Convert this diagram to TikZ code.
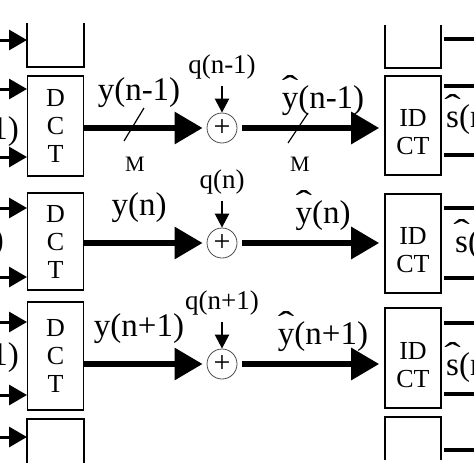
\documentclass[tikz,border=0pt]{standalone}
\usepackage{fontspec}
\setmainfont{Liberation Serif}
\usetikzlibrary{arrows.meta}

\newcommand{\hatted}[1]{{\ooalign{#1\cr\hidewidth\raisebox{.28em}{\scalebox{1.5}[1]{\char"02C6}}\hidewidth\cr}}}

\begin{document}
\begin{tikzpicture}[x=1pt,y=-1pt,
  box/.style={draw,line width=1.6pt,minimum width=56pt,inner sep=0pt},
  boxtext/.style={font=\fontsize{26}{28}\selectfont,align=center,inner sep=0pt},
  bigarrow/.style={line width=6pt,-{Triangle[length=28pt,width=31pt]}},
  inarrow/.style={line width=3pt,-{Triangle[length=18pt,width=20pt]}},
  downarrow/.style={line width=2.5pt,-{Triangle[length=14pt,width=14pt]}},
  outline/.style={line width=4pt},
  adder/.style={circle,draw=black!70,line width=0.8pt,minimum size=30pt,inner sep=0pt,font=\fontsize{30}{30}\selectfont},
  ylabel/.style={font=\fontsize{33}{35}\selectfont,inner sep=0pt},
  qlabel/.style={font=\fontsize{27}{29}\selectfont,inner sep=0pt},
  mlabel/.style={font=\fontsize{22}{24}\selectfont,inner sep=0pt},
  slash/.style={line width=1.2pt}]
  \useasboundingbox (0,0) rectangle (474,474);
  \clip (0,0) rectangle (474,474);
   \coordinate (dctedge) at (27,0);
   \coordinate (idctedge) at (444,0);
  % open boxes cut by the frame
  \draw[line width=1.6pt] (27,23) -- (27,67) -- (84,67) -- (84,23);
  \draw[line width=1.6pt] (27,463) -- (27,419) -- (84,419) -- (84,463);
  \draw[line width=1.6pt] (385,25) -- (385,68) -- (441,68) -- (441,25);
  \draw[line width=1.6pt] (385,460) -- (385,417) -- (441,417) -- (441,460);
  \foreach \r/\ry/\dc/\dh/\ic/\ih/\ylab/\qlab/\hlab in {%one row per block
      1/128/126/100/125.5/99/{y(n-1)}/{q(n-1)}/{n-1},
      2/243/241.5/97/243.5/99/{y(n)}/{q(n)}/{n},
      3/364/356/108/358/100/{y(n+1)}/{q(n+1)}/{n+1}}{%
    \coordinate (row\r) at (0,\ry);
    \node[box,boxtext,minimum height=\dh pt] (dct\r) at (55.5,\dc) {D\\C\\T};
    \node[box,minimum height=\ih pt] (idct\r) at (413,\ic) {};
    \node[boxtext] (idcttext\r) at ([yshift=-7pt]idct\r.center) {ID\\CT};
    \node[adder] (sum\r) at (222,\ry) {+};
    \draw[bigarrow,shorten >=4pt] (dct\r.east |- row\r) -- (sum\r.west);
    \draw[bigarrow,shorten <=5pt,shorten >=5pt] (sum\r.east) -- (idct\r.west |- row\r);
    \node[ylabel,anchor=base] (y\r) at (139,\ry-28) {\ylab};
    \node[qlabel,anchor=base] (q\r) at (222,\ry-55) {\qlab};
    \draw[downarrow] ([yshift=-7pt]q\r.south) -- (sum\r.north);
    \node[ylabel,anchor=base] (yhat\r) at (323,\ry-20) {\hatted{y}(\hlab)};
  }
  % bus width marks on the first row
  \draw[slash] (124,141) -- (144,108);
  \node[mlabel,anchor=base] (m1) at (135,171) {M};
  \draw[slash] (288,143) -- (308,113);
  \node[mlabel,anchor=base] (m2) at (300,171) {M};
  % inputs and outputs running past the frame
  \foreach \k/\y in {1/40,2/89,3/157,4/208,5/277,6/322,7/395,8/437}{
    \coordinate (in\k) at (-10,\y);
    \draw[inarrow] (in\k) -- (in\k -| dctedge);
  }
  \foreach \k/\y in {1/39,2/86,3/155,4/208,5/278,6/323,7/394,8/450}{
    \coordinate (out\k) at (480,\y);
    \draw[outline] (out\k -| idctedge) -- (out\k);
  }
  \node[ylabel,anchor=base east] (left1) at (19,139) {(n-1)};
  \node[ylabel,anchor=base east] (left2) at (4,250) {(n)};
  \node[ylabel,anchor=base east] (left3) at (19,365) {(n+1)};
  \node[ylabel,anchor=base west] (shat1) at (446,127) {\hatted{s}(n-1)};
  \node[ylabel,anchor=base west] (shat2) at (455,252) {\hatted{s}(n)};
  \node[ylabel,anchor=base west] (shat3) at (446,375) {\hatted{s}(n+1)};
 \end{tikzpicture}
\end{document}
